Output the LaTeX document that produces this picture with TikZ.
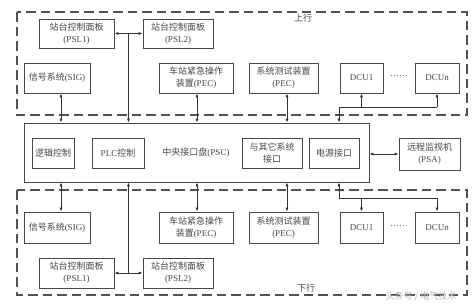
\documentclass[tikz,border=0pt]{standalone}
\usepackage{fontspec}
\setmainfont{Liberation Serif}
\newfontfamily\cjk{Noto Sans CJK SC}
\usetikzlibrary{arrows.meta,calc}
\newcommand{\zh}[1]{{\cjk #1}}
\begin{document}
\begin{tikzpicture}[x=1pt,y=-1pt,
  every node/.style={text=black!72},
  bx/.style={draw=black!72,line width=0.9pt,align=center,inner sep=1pt,
    font=\fontsize{9}{12}\selectfont},
  grp/.style={draw=black!68,line width=1.1pt,dash pattern=on 9.5pt off 5pt},
  conn/.style={draw=black!80,line width=0.8pt},
  tip/.style={-{Latex[length=4pt,width=3.2pt]}},
  tips/.style={{Latex[length=4pt,width=3.2pt]}-{Latex[length=4pt,width=3.2pt]}},
  lbl/.style={font=\fontsize{9}{12}\selectfont}]
\useasboundingbox (0,0) rectangle (474,306);
% group frames
\draw[grp] (17,12) rectangle (467,115);
\draw[grp] (17,190) rectangle (467,295);
\node[lbl] (up) at (303,18) {\zh{上行}};
\node[lbl] (down) at (306,288) {\zh{下行}};
% top row
\node[bx,minimum width=75pt,minimum height=29pt] (PSL1t) at (76.5,33.5) {\zh{站台控制面板}\\(PSL1)};
\node[bx,minimum width=70pt,minimum height=29pt] (PSL2t) at (178,33.5) {\zh{站台控制面板}\\(PSL2)};
\node[bx,minimum width=66pt,minimum height=30pt] (SIGt) at (57,78) {\zh{信号系统}(SIG)};
\node[bx,minimum width=74pt,minimum height=30pt] (PECt) at (196,78) {\zh{车站紧急操作}\\\zh{装置}(PEC)};
\node[bx,minimum width=69pt,minimum height=30pt] (TSTt) at (283.5,78) {\zh{系统测试装置}\\(PEC)};
\node[bx,minimum width=43pt,minimum height=30pt] (DCU1t) at (361.5,78) {DCU1};
\node[bx,minimum width=44pt,minimum height=30pt] (DCUnt) at (437,78) {DCUn};
\node[lbl] (dotst) at (399,76) {……};
% central panel
\node[draw=black!72,line width=0.9pt,minimum width=345pt,minimum height=59pt,inner sep=0pt] (psc) at (196.5,152.5) {};
\node[lbl] (psct) at (196,153) {\zh{中央接口盘}(PSC)};
\node[bx,minimum width=42pt,minimum height=30pt] (logic) at (53,153) {\zh{逻辑控制}};
\node[bx,minimum width=52pt,minimum height=30pt] (plc) at (118,153) {PLC\zh{控制}};
\node[bx,minimum width=60pt,minimum height=30pt] (other) at (272,153) {\zh{与其它系统}\\\zh{接口}};
\node[bx,minimum width=50pt,minimum height=30pt] (power) at (334,153) {\zh{电源接口}};
\node[bx,minimum width=61pt,minimum height=32pt] (psa) at (429.5,154) {\zh{远程监视机}\\(PSA)};
% bottom row
\node[bx,minimum width=66pt,minimum height=31pt] (SIGb) at (57,227.5) {\zh{信号系统}(SIG)};
\node[bx,minimum width=74pt,minimum height=31pt] (PECb) at (196,227.5) {\zh{车站紧急操作}\\\zh{装置}(PEC)};
\node[bx,minimum width=69pt,minimum height=31pt] (TSTb) at (283.5,227.5) {\zh{系统测试装置}\\(PEC)};
\node[bx,minimum width=43pt,minimum height=31pt] (DCU1b) at (361.5,227.5) {DCU1};
\node[bx,minimum width=44pt,minimum height=31pt] (DCUnb) at (437,227.5) {DCUn};
\node[lbl] (dotsb) at (399,226) {……};
\node[bx,minimum width=75pt,minimum height=30pt] (PSL1b) at (76.5,273) {\zh{站台控制面板}\\(PSL1)};
\node[bx,minimum width=70pt,minimum height=30pt] (PSL2b) at (178,273) {\zh{站台控制面板}\\(PSL2)};
% watermark
\node[text=black!30,font=\cjk\fontsize{9}{10}\selectfont] (wm) at (421,297) {头条号 / 电气技术};
% connectors top
\coordinate (jt) at ($(PSL1t.east)!0.5!(PSL2t.west)$);
\draw[conn,tips] (PSL1t.east) -- (PSL2t.west);
\draw[conn,tip] (jt) -- (jt |- psc.north);
\coordinate (st) at ([xshift=4pt]SIGt.south);
\draw[conn,tips] (st) -- (st |- psc.north);
\coordinate (pt) at ([xshift=1pt]PECt.south);
\draw[conn,tips] (pt) -- (pt |- psc.north);
\coordinate (tt) at ([xshift=3.5pt]TSTt.south);
\draw[conn,tips] (tt) -- (tt |- psc.north);
\coordinate (dt) at (339,107);
\draw[conn,tip] (dt) -- (dt |- psc.north);
\draw[conn] (dt) -- (dt -| DCUnt);
\draw[conn,tip] (dt -| DCU1t) -- (DCU1t.south);
\draw[conn,tip] (dt -| DCUnt) -- (DCUnt.south);
% connectors bottom
\coordinate (jb) at ($(PSL1b.east)!0.5!(PSL2b.west)$);
\draw[conn,tips] (PSL1b.east) -- (PSL2b.west);
\draw[conn,tip] (jb) -- (jb |- psc.south);
\coordinate (sb) at ([xshift=4pt]SIGb.north);
\draw[conn,tips] (sb) -- (sb |- psc.south);
\coordinate (pb) at ([xshift=1pt]PECb.north);
\draw[conn,tips] (pb) -- (pb |- psc.south);
\coordinate (tb) at ([xshift=3.5pt]TSTb.north);
\draw[conn,tips] (tb) -- (tb |- psc.south);
\coordinate (db) at (339,198);
\draw[conn,tip] (db) -- (db |- psc.south);
\draw[conn] (db) -- (db -| DCUnb);
\draw[conn,tip] (db -| DCU1b) -- (DCU1b.north);
\draw[conn,tip] (db -| DCUnb) -- (DCUnb.north);
% PSA link
\draw[conn,tips] (psc.east |- psa.west) -- (psa.west);
\end{tikzpicture}
\end{document}
